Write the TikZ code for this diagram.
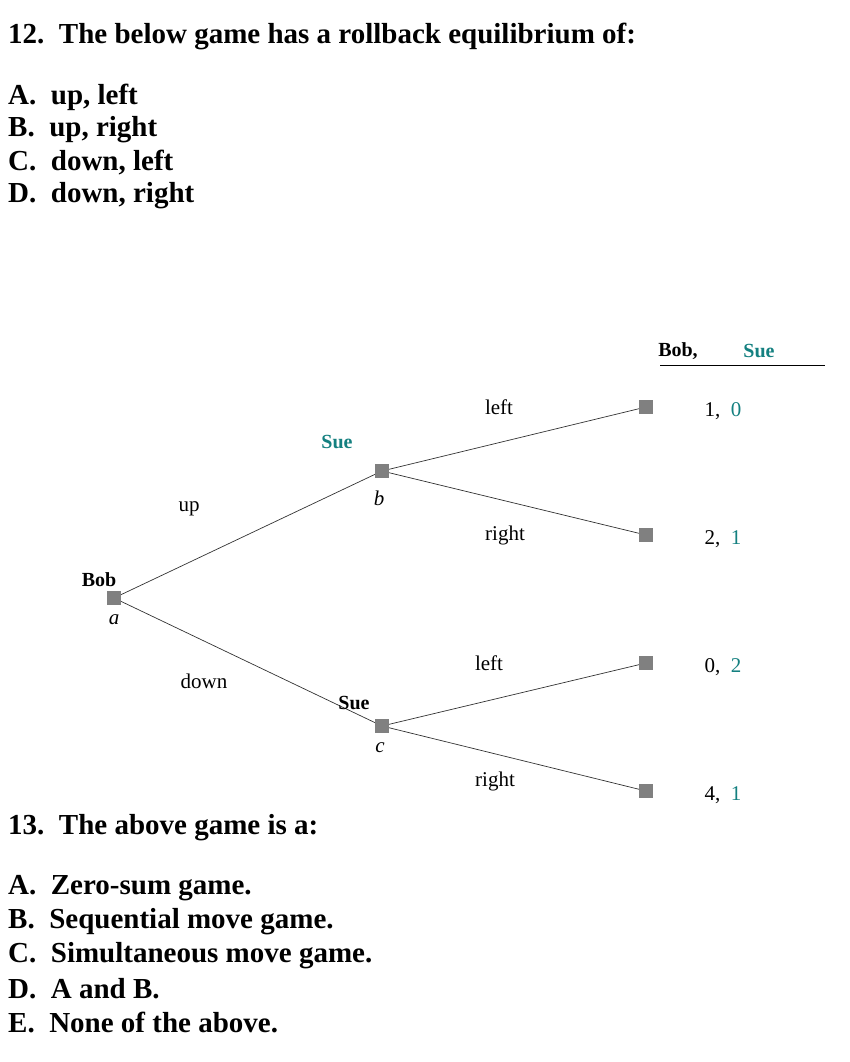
\documentclass[tikz,border=0pt]{standalone}
\usepackage{fontspec}
\setmainfont{Liberation Serif}
\definecolor{tealc}{RGB}{20,128,128}
\definecolor{sq}{RGB}{128,128,128}
\begin{document}
\begin{tikzpicture}[x=1pt,y=-1pt,
  q/.style={anchor=west,font=\fontsize{29}{32}\selectfont\bfseries,inner sep=0pt},
  nd/.style={fill=sq,minimum size=14pt,inner sep=0pt},
  lb/.style={font=\fontsize{21}{24}\selectfont,inner sep=0pt},
  pl/.style={font=\fontsize{20}{23}\selectfont\bfseries,inner sep=0pt},
  ln/.style={draw=black!80,line width=0.7pt}]
\useasboundingbox (0,0) rectangle (850,1062);
\node[q] (q12) at (8,36) {12.\ \ The below game has a rollback equilibrium of:};
\node[q] (a1) at (8,97) {A.\ \ up, left};
\node[q] (b1) at (8,130) {B.\ \ up, right};
\node[q] (c1) at (8,163) {C.\ \ down, left};
\node[q] (d1) at (8,196) {D.\ \ down, right};
\node[q] (q13) at (8,828) {13.\ \ The above game is a:};
\node[q] (a2) at (8,888) {A.\ \ Zero-sum game.};
\node[q] (b2) at (8,922) {B.\ \ Sequential move game.};
\node[q] (c2) at (8,956) {C.\ \ Simultaneous move game.};
\node[q] (d2) at (8,989) {D.\ \ A and B.};
\node[q] (e2) at (8,1022) {E.\ \ None of the above.};
\coordinate (a) at (114,598);
\coordinate (b) at (382,471);
\coordinate (c) at (382,726);
\coordinate (t1) at (646,407);
\coordinate (t2) at (646,535);
\coordinate (t3) at (646,663);
\coordinate (t4) at (646,791);
\draw[ln] (a) -- (b);
\draw[ln] (a) -- (c);
\draw[ln] (b) -- (t1);
\draw[ln] (b) -- (t2);
\draw[ln] (c) -- (t3);
\draw[ln] (c) -- (t4);
\foreach \n in {a,b,c,t1,t2,t3,t4} \node[nd] (sq\n) at (\n) {};
\node[pl] (bob) at (99,580) {Bob};
\node[lb] (la) at (114,620) {\itshape a};
\node[pl,text=tealc] (sue1) at (337,442) {Sue};
\node[lb] (lb) at (379,498) {\itshape b};
\node[pl] (sue2) at (354,703) {Sue};
\node[lb] (lc) at (380,748) {\itshape c};
\node[lb] (up) at (189,509) {up};
\node[lb] (down) at (204,681) {down};
\node[lb] (l1) at (499,407) {left};
\node[lb] (r1) at (505,535) {right};
\node[lb] (l2) at (489,663) {left};
\node[lb] (r2) at (495,781) {right};
\node[pl] (hb) at (678,351) {Bob,};
\node[pl,text=tealc] (hs) at (759,351) {Sue};
\coordinate (h1) at (660,365);
\coordinate (h2) at (825,365);
\draw[line width=0.7pt] (h1) -- (h2);
\node[lb] (p1) at (723,411) {1,\ \ \textcolor{tealc}{0}};
\node[lb] (p2) at (723,539) {2,\ \ \textcolor{tealc}{1}};
\node[lb] (p3) at (723,667) {0,\ \ \textcolor{tealc}{2}};
\node[lb] (p4) at (723,795) {4,\ \ \textcolor{tealc}{1}};
\end{tikzpicture}
\end{document}
